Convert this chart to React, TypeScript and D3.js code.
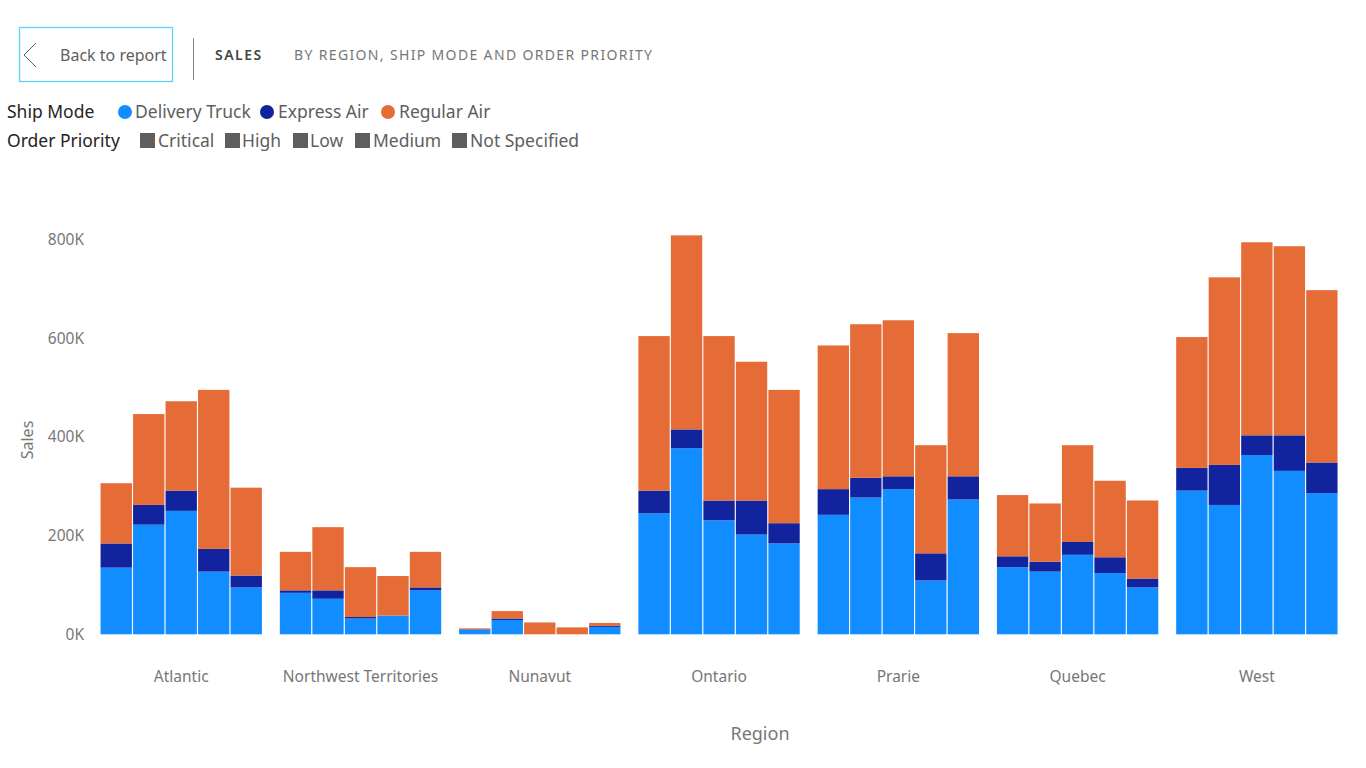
import React from "react";
import * as d3 from "d3";

const regions = ["Atlantic", "Northwest Territories", "Nunavut", "Ontario", "Prarie", "Quebec", "West"];
const priorities = ["Critical", "High", "Low", "Medium", "Not Specified"];
const shipModes = ["Delivery Truck", "Express Air", "Regular Air"];
const shipColors = ["#118DFF", "#12239E", "#E66C37"];
const yTicks = [0, 200, 400, 600, 800];

// Sales in thousands, per region, five order priorities each
const deliveryTruck = [
  [135, 222, 250, 127, 95],
  [84, 72, 32, 38, 89],
  [9, 29, 0, 0, 15],
  [245, 377, 231, 202, 184],
  [242, 277, 294, 109, 273],
  [136, 127, 161, 124, 95],
  [291, 262, 363, 331, 286],
];
const expressAir = [
  [49, 40, 41, 46, 24],
  [5, 17, 3, 0, 6],
  [1, 3, 0, 0, 2],
  [46, 38, 40, 69, 41],
  [52, 40, 26, 55, 47],
  [22, 20, 26, 32, 18],
  [46, 81, 40, 72, 62],
];
const regularAir = [
  [122, 184, 181, 322, 178],
  [78, 128, 101, 80, 72],
  [2, 15, 24, 14, 6],
  [313, 393, 333, 281, 270],
  [291, 311, 316, 219, 290],
  [124, 118, 196, 155, 158],
  [265, 380, 391, 383, 349],
];

const FONT = "'Noto Sans', 'Open Sans', sans-serif";
const AXIS = "#777777";
const LEGEND = "#605E5C";
const DARK = "#252423";

const rows = regions.flatMap((region, r) =>
  priorities.map((priority, p) => ({
    region,
    priority,
    "Delivery Truck": deliveryTruck[r][p],
    "Express Air": expressAir[r][p],
    "Regular Air": regularAir[r][p],
  }))
);

const x0 = d3.scaleBand<string>().domain(regions).range([91.6, 1346.5]).paddingInner(0.1).paddingOuter(0.05);
const x1 = d3.scaleBand<string>().domain(priorities).range([0, x0.bandwidth()]).paddingInner(0.035);
const y = d3.scaleLinear().domain([0, 800]).range([634.3, 239.3]);
const layers = d3.stack<any>().keys(shipModes)(rows);

const shipLegend = [
  { label: shipModes[0], cx: 125, tx: 135 },
  { label: shipModes[1], cx: 267, tx: 278 },
  { label: shipModes[2], cx: 388, tx: 399 },
];
const priorityLegend = [
  { label: priorities[0], sx: 140, tx: 158 },
  { label: priorities[1], sx: 225, tx: 242 },
  { label: priorities[2], sx: 293, tx: 310 },
  { label: priorities[3], sx: 355, tx: 373 },
  { label: priorities[4], sx: 452, tx: 470 },
];

export default function App() {
  return (
    <svg
      width={1366}
      height={768}
      viewBox="0 0 1366 768"
      style={{ position: "fixed", left: 0, top: 0, display: "block", background: "#fff" }}
      fontFamily={FONT}
    >
      <rect x={19.5} y={27.5} width={153} height={54} fill="#fff" stroke="#5AD3F0" strokeWidth={1.3} />
      <path d="M36 43 L24 55 L36 67" fill="none" stroke="#605E5C" strokeWidth={1} />
      <text x={60} y={61} fontSize={16} fill={LEGEND}>Back to report</text>
      <line x1={193.5} x2={193.5} y1={38} y2={80} stroke="#8a8886" strokeWidth={1} />
      <text x={215} y={60} fontSize={14} fontWeight={600} letterSpacing={1.5} fill="#444">SALES</text>
      <text x={294} y={60} fontSize={14} letterSpacing={1.35} fill="#777">BY REGION, SHIP MODE AND ORDER PRIORITY</text>

      <text x={7} y={118} fontSize={17.5} fill={DARK}>Ship Mode</text>
      {shipLegend.map((d, i) => (
        <g key={d.label}>
          <circle cx={d.cx} cy={112} r={7} fill={shipColors[i]} />
          <text x={d.tx} y={118} fontSize={17.5} fill={LEGEND}>{d.label}</text>
        </g>
      ))}
      <text x={7} y={147} fontSize={17.5} fill={DARK}>Order Priority</text>
      {priorityLegend.map((d) => (
        <g key={d.label}>
          <rect x={d.sx} y={133} width={15} height={15} fill="#605E5C" />
          <text x={d.tx} y={147} fontSize={17.5} fill={LEGEND}>{d.label}</text>
        </g>
      ))}

      {yTicks.map((t) => (
        <text key={t} x={84} y={y(t)} dy="0.36em" textAnchor="end" fontSize={15.5} fill={AXIS}>
          {t}K
        </text>
      ))}
      <text
        transform="translate(27,440) rotate(-90)"
        textAnchor="middle"
        dy="0.36em"
        fontSize={16}
        fill={AXIS}
      >
        Sales
      </text>

      {layers.map((layer, i) => (
        <g key={layer.key} fill={shipColors[i]}>
          {layer.map((seg) => {
            const row = seg.data as any;
            const h = y(seg[0]) - y(seg[1]);
            if (h <= 0) return null;
            return (
              <rect
                key={row.region + row.priority}
                x={(x0(row.region) as number) + (x1(row.priority) as number)}
                y={y(seg[1])}
                width={x1.bandwidth()}
                height={h}
              />
            );
          })}
        </g>
      ))}

      {regions.map((r) => (
        <text
          key={r}
          x={(x0(r) as number) + x0.bandwidth() / 2}
          y={676}
          dy="0.36em"
          textAnchor="middle"
          fontSize={15.5}
          fill={AXIS}
        >
          {r}
        </text>
      ))}
      <text x={760} y={734} dy="0.36em" textAnchor="middle" fontSize={18} fill={AXIS}>Region</text>
    </svg>
  );
}
